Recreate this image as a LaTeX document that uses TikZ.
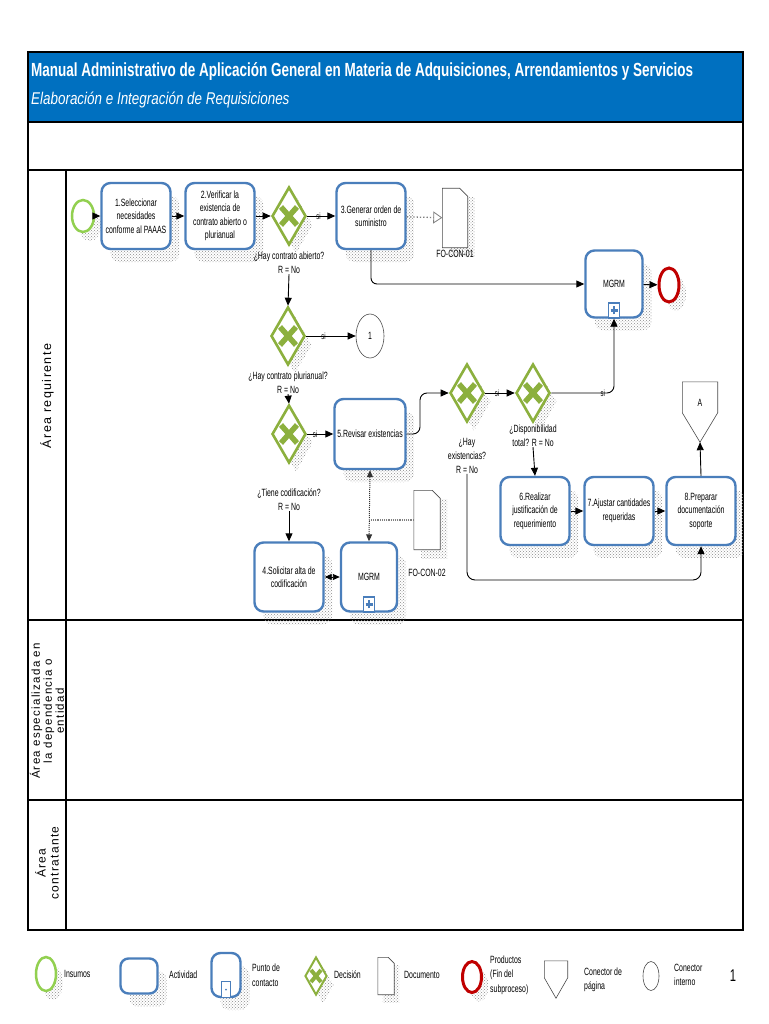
\documentclass[tikz,border=0pt]{standalone}
\usepackage{fontspec}
\setmainfont{Liberation Sans}
\newfontfamily\nar[FakeStretch=0.66]{Liberation Sans}
\newfontfamily\titlef[FakeStretch=0.71]{Liberation Sans}
\newfontfamily\subf[FakeStretch=0.79]{Liberation Sans}
\newfontfamily\lanef[LetterSpace=11]{Liberation Sans}
\usetikzlibrary{arrows.meta,shapes.geometric,shadows,patterns}

\definecolor{hdrblue}{RGB}{0,112,192}
\definecolor{tblue}{RGB}{74,126,187}
\definecolor{ggreen}{RGB}{140,176,62}
\definecolor{sgreen}{RGB}{146,208,80}
\definecolor{ered}{RGB}{192,0,0}

\tikzset{
 shd/.style={drop shadow={shadow xshift=9pt,shadow yshift=-13pt,pattern=crosshatch dots,pattern color=gray!90,opacity=1}},
 shdg/.style={drop shadow={shadow xshift=7pt,shadow yshift=-9pt,pattern=crosshatch dots,pattern color=gray!90,opacity=1}},
 shadowfill/.style={pattern=crosshatch dots,pattern color=gray!90},
 task/.style={shd,draw=tblue,line width=2.4pt,fill=white,rounded corners=9pt,minimum width=69pt,minimum height=66pt,inner sep=1pt,align=center,font=\nar\fontsize{10.5}{13.5}\selectfont},
 gatebase/.style={shdg,diamond,draw=ggreen,line width=2.6pt,fill=white,minimum width=34pt,minimum height=58pt,inner sep=0pt},
 gate/.style={gatebase,path picture={\draw[ggreen,line width=5.5pt] ([shift={(-8pt,-9pt)}]path picture bounding box.center) -- ([shift={(8pt,9pt)}]path picture bounding box.center) ([shift={(-8pt,9pt)}]path picture bounding box.center) -- ([shift={(8pt,-9pt)}]path picture bounding box.center);}},
 gatesmall/.style={gatebase,minimum width=22pt,minimum height=38pt,line width=2pt,path picture={\draw[ggreen,line width=4pt] ([shift={(-5pt,-6pt)}]path picture bounding box.center) -- ([shift={(5pt,6pt)}]path picture bounding box.center) ([shift={(-5pt,6pt)}]path picture bounding box.center) -- ([shift={(5pt,-6pt)}]path picture bounding box.center);}},
 startn/.style={shdg,ellipse,draw=sgreen,line width=2.5pt,fill=white,minimum width=22pt,minimum height=32pt,inner sep=0pt},
 endn/.style={shdg,ellipse,draw=ered,line width=3pt,fill=white,minimum width=20pt,minimum height=34pt,inner sep=0pt},
 conn/.style={ellipse,draw=black!70,line width=0.6pt,fill=white,minimum width=28pt,minimum height=44pt,inner sep=0pt,font=\nar\fontsize{10.5}{12}\selectfont},
 markn/.style={draw=tblue,line width=1.5pt,fill=white,minimum width=11pt,minimum height=15pt,inner sep=0pt,anchor=south,
   path picture={\draw[tblue,line width=2.2pt] ([yshift=-4pt]path picture bounding box.center) -- ([yshift=4pt]path picture bounding box.center) ([xshift=-3.5pt]path picture bounding box.center) -- ([xshift=3.5pt]path picture bounding box.center);}},
 docn/.style={minimum width=25pt,minimum height=59pt,inner sep=0pt},
 docline/.style={draw=black!70,line width=0.6pt,fill=white},
 pcn/.style={minimum width=35pt,minimum height=60pt,inner sep=0pt},
 pcline/.style={draw=black!70,line width=0.6pt,fill=white},
 lbl/.style={align=center,font=\nar\fontsize{10.5}{14}\selectfont,inner sep=0pt},
 sil/.style={font=\nar\fontsize{9}{9}\selectfont,inner sep=0pt},
 legt/.style={align=left,anchor=west,font=\nar\fontsize{10.5}{14.5}\selectfont,inner sep=0pt},
 lanelbl/.style={rotate=90,align=center,font=\lanef\fontsize{11.5}{12}\selectfont,inner sep=0pt},
 flow/.style={draw=black,line width=0.9pt,-{Triangle[length=8pt,width=7pt]}},
 lanes/.style={draw=black,line width=1.3pt},
}

\begin{document}
\begin{tikzpicture}[x=1pt,y=-1pt]
\useasboundingbox (0,0) rectangle (768,1024);
\fill[white] (0,0) rectangle (768,1024);

% header and lanes
\fill[hdrblue] (28,52) rectangle (743,122);
\draw[lanes] (28,52) rectangle (743,930);
\draw[lanes] (28,122) -- (743,122);
\draw[lanes] (28,170) -- (743,170);
\draw[lanes] (66,170) -- (66,930);
\draw[lanes] (28,620) -- (743,620);
\draw[lanes] (28,800) -- (743,800);
\node[anchor=west,text=white,inner sep=0pt,font=\titlef\bfseries\fontsize{19}{21}\selectfont] (title) at (31,72) {Manual Administrativo de Aplicación General en Materia de Adquisiciones, Arrendamientos y Servicios};
\node[anchor=west,text=white,inner sep=0pt,font=\subf\itshape\fontsize{17}{19}\selectfont] (subtitle) at (31,100) {Elaboración e Integración de Requisiciones};

\node[lanelbl,font=\lanef\fontsize{12.5}{13}\selectfont] (lane1) at (47,396) {Área requirente};
\node[lanelbl] (lane2) at (47,711) {Área especializada en\\la dependencia o\\entidad};
\node[lanelbl,font=\lanef\fontsize{12}{13}\selectfont] (lane3) at (47,863) {Área\\contratante};

% nodes
\node[startn] (s) at (83,216) {};
\node[task] (t1) at (136,216) {1.Seleccionar\\necesidades\\conforme al PAAAS};
\node[task] (t2) at (220,216) {2.Verificar la\\existencia de\\contrato abierto o\\plurianual};
\node[gate] (g1) at (289,216) {};
\node[lbl] (g1l) at (289,263) {¿Hay contrato abierto?\\R = No};
\node[task] (t3) at (371,216) {3.Generar orden de\\suministro};

\node[docn] (d1) at (455,218) {};
\fill[shadowfill] ([shift={(7pt,-9pt)}]d1.south west) rectangle ([shift={(7pt,-9pt)}]d1.north east);
\draw[docline] (d1.south west) -- (d1.north west) -- ([xshift=-8pt]d1.north east) -- ([yshift=-8pt]d1.north east) -- (d1.south east) -- cycle;
\node[lbl] (d1l) at (455,254) {FO-CON-01};

\node[task,minimum width=57pt,minimum height=67pt] (m1) at (614,284) {MGRM};
\node[markn] (m1k) at (m1.south) {};
\node[endn] (e) at (669,285) {};

\node[gate] (g2) at (288,336) {};
\node[lbl] (g2l) at (288,383) {¿Hay contrato plurianual?\\R = No};
\node[conn] (c1) at (370,336) {1};

\node[gate] (g3) at (289,434) {};
\node[lbl] (g3l) at (289,500) {¿Tiene codificación?\\R = No};
\node[task,minimum width=71pt,minimum height=70pt] (t5) at (370,434) {5.Revisar existencias};

\node[task,minimum height=69pt] (t4) at (289,577) {4.Solicitar alta de\\codificación};
\node[task,minimum width=56pt,minimum height=69pt] (m2) at (369,577) {MGRM};
\node[markn] (m2k) at (m2.south) {};

\node[docn,minimum width=26pt] (d2) at (427,520) {};
\fill[shadowfill] ([shift={(7pt,-9pt)}]d2.south west) rectangle ([shift={(7pt,-9pt)}]d2.north east);
\draw[docline] (d2.south west) -- (d2.north west) -- ([xshift=-8pt]d2.north east) -- ([yshift=-8pt]d2.north east) -- (d2.south east) -- cycle;
\node[lbl] (d2l) at (427,573) {FO-CON-02};

\node[gate] (g4) at (467,393) {};
\node[lbl] (g4l) at (467,456) {¿Hay\\existencias?\\R = No};
\node[gate] (g5) at (533,393) {};
\node[lbl] (g5l) at (533,436) {¿Disponibilidad\\total? R = No};

\node[task,minimum height=68pt] (t6) at (535,511) {6.Realizar\\justificación de\\requerimiento};
\node[task,minimum height=68pt] (t7) at (619,511) {7.Ajustar cantidades\\requeridas};
\node[task,minimum height=68pt] (t8) at (701,511) {8.Preparar\\documentación\\soporte};

\node[pcn] (pc) at (700,412) {};
\draw[pcline] (pc.north west) -- (pc.north east) -- ([yshift=-31pt]pc.north east) -- (pc.south) -- ([yshift=-31pt]pc.north west) -- cycle;
\node[lbl] (pcl) at (700,403) {A};

\coordinate (bot) at (467,580);
\coordinate (t5r) at (420,434);

% connectors
\draw[flow] (s) -- (t1);
\draw[flow] (t1) -- (t2);
\draw[flow] (t2) -- (g1);
\draw[flow] (g1) -- node[sil,pos=0.4] {si} (t3);
\draw[draw=gray,dotted,line width=1.3pt,-{Triangle[open,length=9pt,width=12pt,line width=0.8pt]}] (t3) -- (d1);
\draw[flow,rounded corners=6pt] (t3.south) |- (m1.west);
\draw[flow] (m1) -- (e);
\draw[flow] (g1l.south) -- (g2.north);
\draw[flow] (g2) -- node[sil,pos=0.35] {si} (c1);
\draw[flow] (g2l.south) -- (g3.north);
\draw[flow] (g3) -- node[sil,pos=0.3] {si} (t5);
\draw[flow] (g3l.south) -- (t4.north);
\draw[line width=0.9pt,{Triangle[length=7pt,width=6pt]}-{Triangle[length=7pt,width=6pt]}] (t4) -- (m2);
\draw[black!80,densely dotted,line width=1pt,{Triangle[length=7pt,width=6pt]}-{Triangle[length=7pt,width=6pt]}] (t5.south) -- (m2.north);
\draw[gray,densely dotted,line width=1.2pt] (d2.west) -- (m2.north |- d2.west);
\draw[flow,rounded corners=7pt] (t5.east) -- (t5r) |- (g4.west);
\draw[flow] (g4) -- node[sil,pos=0.4] {si} (g5);
\draw[flow,rounded corners=7pt] (g5.east) -| node[sil,pos=0.41] {si} (m1.south);
\draw[flow] (g5l.south) -- (t6.north);
\draw[flow] (t6) -- (t7);
\draw[flow] (t7) -- (t8);
\draw[flow] (t8.north) -- (pc.south);
\draw[flow,rounded corners=8pt] (g4l.south) -- (bot) -| (t8.south);

% legend
\node[startn,minimum width=20pt,minimum height=34pt] (lg1) at (46,974) {};
\node[legt] (lg1t) at (64,974) {Insumos};
\node[task,minimum width=37pt,minimum height=35pt,rounded corners=8pt] (lg2) at (139,976) {};
\node[legt] (lg2t) at (169,975) {Actividad};
\node[task,minimum width=29pt,minimum height=44pt] (lg3) at (226,975) {};
\node[draw=tblue,line width=1.3pt,fill=white,minimum width=9pt,minimum height=16pt,inner sep=0pt,anchor=south] (lg3k) at (lg3.south) {};
\fill[tblue] (lg3k.center) circle (1pt);
\node[legt] (lg3t) at (252,975) {Punto de\\contacto};
\node[gatesmall] (lg4) at (316,976) {};
\node[legt] (lg4t) at (334,975) {Decisión};
\node[docn,minimum width=16pt,minimum height=37pt] (lg5) at (386,976) {};
\fill[shadowfill] ([shift={(5pt,-8pt)}]lg5.south west) rectangle ([shift={(5pt,-8pt)}]lg5.north east);
\draw[docline] (lg5.south west) -- (lg5.north west) -- ([xshift=-6pt]lg5.north east) -- ([yshift=-6pt]lg5.north east) -- (lg5.south east) -- cycle;
\node[legt] (lg5t) at (404,975) {Documento};
\node[endn,minimum width=19pt,minimum height=31pt] (lg6) at (472,977) {};
\node[legt] (lg6t) at (490,975) {Productos\\(Fin del\\subproceso)};
\node[pcn,minimum width=23pt,minimum height=37pt] (lg7) at (556,979.5) {};
\draw[pcline] (lg7.north west) -- (lg7.north east) -- ([yshift=-17pt]lg7.north east) -- (lg7.south) -- ([yshift=-17pt]lg7.north west) -- cycle;
\node[legt] (lg7t) at (584,980) {Conector de\\página};
\node[conn,minimum width=16pt,minimum height=29pt] (lg8) at (651,976) {};
\node[legt] (lg8t) at (674,975) {Conector\\interno};
\node[inner sep=0pt,font=\nar\fontsize{17}{17}\selectfont] (pg) at (733,976) {1};
\end{tikzpicture}
\end{document}
